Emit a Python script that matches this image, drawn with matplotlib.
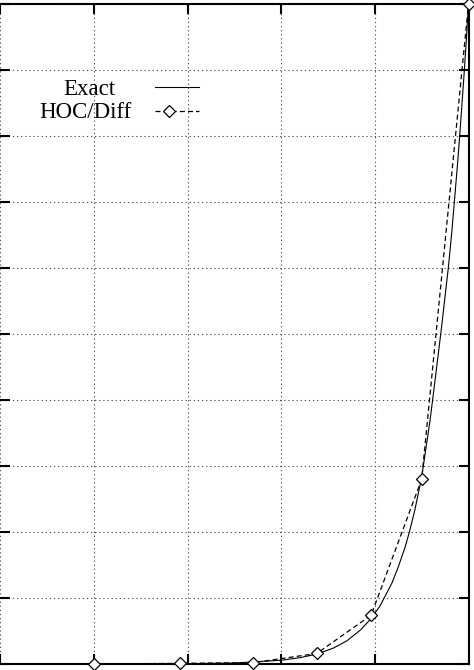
import matplotlib
matplotlib.use("Agg")
import matplotlib.pyplot as plt
from matplotlib.lines import Line2D

# ---- data ----
exact_x = [0.0, 0.2, 0.4, 0.5, 0.6, 0.64, 0.676, 0.711, 0.74, 0.77, 0.792, 0.811,
           0.836, 0.85, 0.864, 0.873, 0.885, 0.900, 0.918, 0.930, 0.943, 0.957,
           0.964, 0.970, 0.978, 0.985, 0.990, 0.996, 1.0]
exact_y = [0.0, 0.0, 0.0004, 0.0015, 0.0057, 0.0096, 0.015, 0.024, 0.035, 0.052, 0.069, 0.088,
           0.122, 0.147, 0.176, 0.198, 0.232, 0.283, 0.370, 0.438, 0.514, 0.601,
           0.652, 0.702, 0.770, 0.838, 0.888, 0.952, 1.0]

hoc_x = [0.2, 0.384, 0.540, 0.676, 0.792, 0.900, 1.0]
hoc_y = [0.0, 0.001, 0.002, 0.016, 0.074, 0.280, 1.0]

x_ticks = [0.0, 0.2, 0.4, 0.6, 0.8, 1.0]
y_ticks = [0.0, 0.1, 0.2, 0.3, 0.4, 0.5, 0.6, 0.7, 0.8, 0.9, 1.0]

labels = ["Exact", "HOC/Diff"]

W, H = 474, 670
fig = plt.figure(figsize=(W / 100, H / 100), dpi=100)
ax = fig.add_axes([0.4 / W, 6 / H, 468.1 / W, 660 / H])

ax.plot(exact_x, exact_y, color="black", lw=0.8, solid_joinstyle="round")
ax.plot(hoc_x, hoc_y, color="black", lw=0.9, linestyle=(0, (4, 2.5)),
        marker="D", markersize=6.5, markerfacecolor="white",
        markeredgecolor="black", markeredgewidth=0.9, clip_on=False, zorder=5)

ax.set_xlim(0, 1)
ax.set_ylim(0, 1)
ax.set_xticks(x_ticks)
ax.set_yticks(y_ticks)
ax.tick_params(direction="in", length=7, width=1.5, top=True, right=True,
               labelbottom=False, labelleft=False)
ax.grid(True, linestyle=(0, (1.2, 2.5)), color="#555555", lw=0.8)
for s in ax.spines.values():
    s.set_linewidth(1.5)
ax.spines["left"].set_visible(False)

# legend (gnuplot style: label then sample)
def fx(px):
    return px / W

def fy(py):
    return 1 - py / H

fig.text(fx(89), fy(95), labels[0], ha="center", va="baseline",
         family="Liberation Serif", fontsize=16.5)
fig.text(fx(85.5), fy(118), labels[1], ha="center", va="baseline",
         family="Liberation Serif", fontsize=16.5)
fig.add_artist(Line2D([fx(155), fx(199)], [fy(87.3), fy(87.3)],
                      color="black", lw=0.8))
fig.add_artist(Line2D([fx(155), fx(199)], [fy(110.7), fy(110.7)],
                      color="black", lw=0.9, linestyle=(0, (4, 2.5))))
fig.add_artist(Line2D([fx(169.3)], [fy(110.7)], marker="D", markersize=6.5,
                      markerfacecolor="white", markeredgecolor="black",
                      markeredgewidth=0.9, linestyle="none"))

fig.savefig("out.png", dpi=100)
